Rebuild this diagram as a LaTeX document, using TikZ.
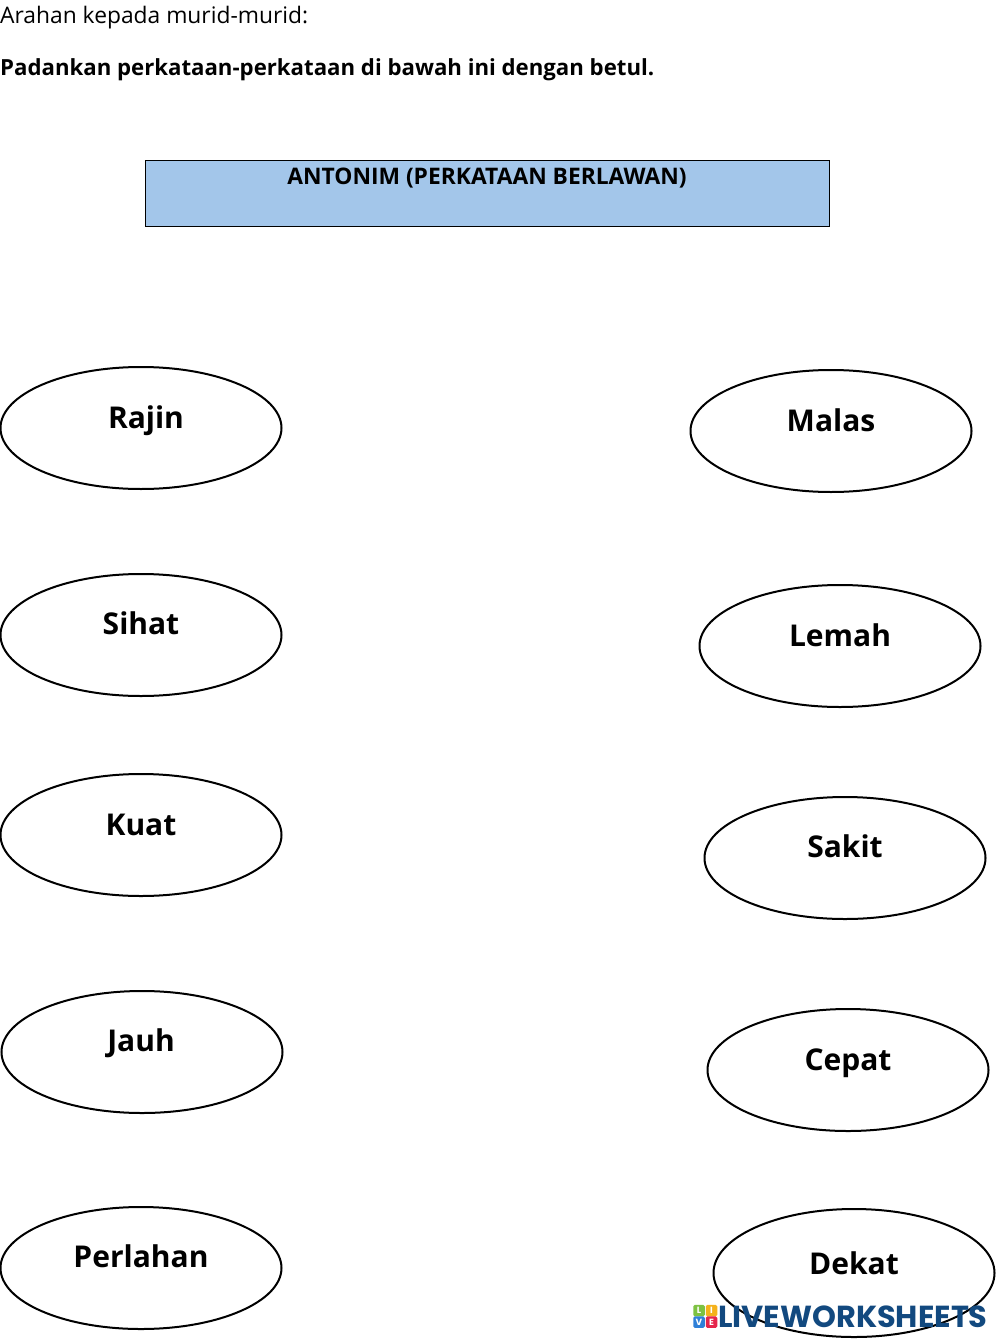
\documentclass[tikz,border=0pt]{standalone}
\usepackage{fontspec}
\setmainfont{Open Sans}
\newfontfamily\logofont{Poppins}
\usetikzlibrary{shapes.geometric}
\definecolor{bandblue}{HTML}{A3C6EA}
\definecolor{logoblue}{HTML}{12497F}
\definecolor{lgreen}{HTML}{7DC242}
\definecolor{lyellow}{HTML}{F5B21B}
\definecolor{lblue}{HTML}{2F80D8}
\definecolor{lred}{HTML}{E5254B}
\tikzset{
  oval/.style={draw=black,line width=2pt,ellipse,minimum width=281pt,minimum height=122pt,inner sep=0pt},
  word/.style={anchor=base,font=\fontsize{30}{34}\selectfont\bfseries,text=black,inner sep=0pt},
  intro/.style={anchor=base west,inner sep=0pt,text=black},
  tile/.style={minimum size=11.5pt,inner sep=0pt,rounded corners=1.5pt,text=white,font=\logofont\fontsize{9}{9}\selectfont\bfseries}
}
\begin{document}
\begin{tikzpicture}[x=1pt,y=-1pt]
\useasboundingbox (0,0) rectangle (1000,1340);
\node[intro,font=\fontsize{22.8}{26}\selectfont] (t1) at (0,24) {Arahan kepada murid-murid:};
\node[intro,font=\fontsize{22.2}{26}\selectfont\bfseries] (t2) at (0,76) {Padankan perkataan-perkataan di bawah ini dengan betul.};
\node[draw=black,fill=bandblue,line width=1pt,minimum width=684pt,minimum height=66pt,inner sep=0pt] (band) at (487.5,193.5) {};
\node[anchor=base,inner sep=0pt,text=black,font=\fontsize{22.8}{26}\selectfont\bfseries] (bandtext) at (487,185) {ANTONIM (PERKATAAN BERLAWAN)};
% left column
\node[oval] (a) at (141,428) {};
\node[oval] (b) at (141,635) {};
\node[oval] (c) at (141,835) {};
\node[oval] (d) at (142,1052) {};
\node[oval] (e) at (141,1268) {};
\node[word] (ta) at (146,428) {Rajin};
\node[word] (tb) at (141,634) {Sihat};
\node[word] (tc) at (141,835) {Kuat};
\node[word] (td) at (141,1051) {Jauh};
\node[word] (te) at (141,1267) {Perlahan};
% right column
\node[oval] (f) at (831,431) {};
\node[oval] (g) at (840,646) {};
\node[oval] (h) at (845,858) {};
\node[oval] (i) at (848,1070) {};
\node[oval,minimum height=128pt] (j) at (854,1273) {};
\node[word] (tf) at (831,431) {Malas};
\node[word] (tg) at (840,646) {Lemah};
\node[word] (th) at (845,857) {Sakit};
\node[word] (ti) at (848,1070) {Cepat};
\node[word] (tj) at (854,1274) {Dekat};
% logo
\node[tile,fill=lgreen] (l1) at (699,1310.5) {L};
\node[tile,fill=lyellow] (l2) at (711.5,1310.5) {I};
\node[tile,fill=lblue] (l3) at (699,1322) {V};
\node[tile,fill=lred] (l4) at (711.5,1322) {E};
\node[anchor=base west,inner sep=0pt,text=logoblue,font=\logofont\fontsize{30.4}{31}\selectfont\bfseries] (logo) at (718,1327) {LIVEWORKSHEETS};
\end{tikzpicture}
\end{document}
